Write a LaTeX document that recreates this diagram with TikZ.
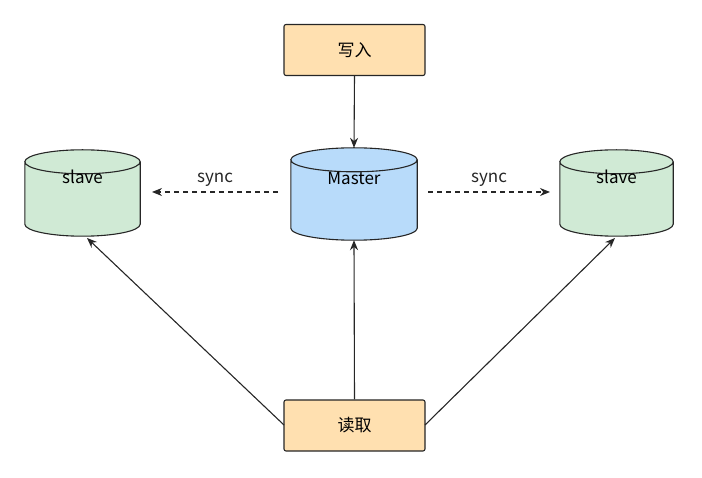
\documentclass[tikz,border=0pt]{standalone}
\usepackage{fontspec}
\setmainfont{Noto Sans CJK SC}
\usetikzlibrary{arrows.meta,calc}
\definecolor{obox}{HTML}{FFE0B0}
\definecolor{bcyl}{HTML}{B8DBFA}
\definecolor{gcyl}{HTML}{D0EAD5}
\newcommand\mycylinder[3]{% name, fill, ry
 \path let \p1=(#1.north west), \p2=(#1.south east), \n1={(\x2-\x1)/2} in
  [draw=black!85,line width=1.1pt,fill=#2]
  (\x1,\y1) ++(0,-#3) -- ($(\x1,\y2)+(0,#3)$) arc[start angle=180,end angle=360,x radius=\n1,y radius=#3]
  -- ($(\x2,\y1)+(0,-#3)$) arc[start angle=0,end angle=180,x radius=\n1,y radius=#3]
  arc[start angle=180,end angle=360,x radius=\n1,y radius=#3];}
\begin{document}
\begin{tikzpicture}[x=1pt,y=-1pt,
 box/.style={draw=black!85,fill=obox,rounded corners=2pt,minimum width=141pt,minimum height=51pt,font=\fontsize{17}{20}\selectfont,line width=1.1pt},
 cyl/.style={draw=none,inner sep=0pt},
 arr/.style={-{Stealth[length=10pt,width=8pt]},line width=1.1pt,black!85},
 lbl/.style={font=\fontsize{17}{20}\selectfont}]
\useasboundingbox (0,0) rectangle (702,478);
\node[box] (w) at (354.5,50) {写入};
\node[box] (r) at (354.5,425.5) {读取};
\node[cyl,minimum width=126pt,minimum height=92pt] (m) at (354,194) {};
\node[cyl,minimum width=115pt,minimum height=86pt] (s1) at (82.5,193) {};
\node[cyl,minimum width=113pt,minimum height=86pt] (s2) at (616.5,193) {};
\mycylinder{m}{bcyl}{12pt}
\mycylinder{s1}{gcyl}{12pt}
\mycylinder{s2}{gcyl}{12pt}
\node[lbl] (tm) at ([yshift=16pt]m.center) {Master};
\node[lbl] (t1) at ([yshift=16pt]s1.center) {slave};
\node[lbl] (t2) at ([yshift=16pt]s2.center) {slave};
\draw[arr] (w.south) -- (m.north);
\draw[arr] (r.north) -- (m.south);
\coordinate (rl) at (284,425);
\coordinate (rr) at (425,425);
\draw[arr] (rl) -- (87,238);
\draw[arr] (rr) -- (615,238);
\draw[arr,dash pattern=on 5pt off 4pt] (278,192) -- node[lbl,above=2pt]{sync} (152,192);
\draw[arr,dash pattern=on 5pt off 4pt] (428,192) -- node[lbl,above=2pt]{sync} (550,192);
\end{tikzpicture}
\end{document}
